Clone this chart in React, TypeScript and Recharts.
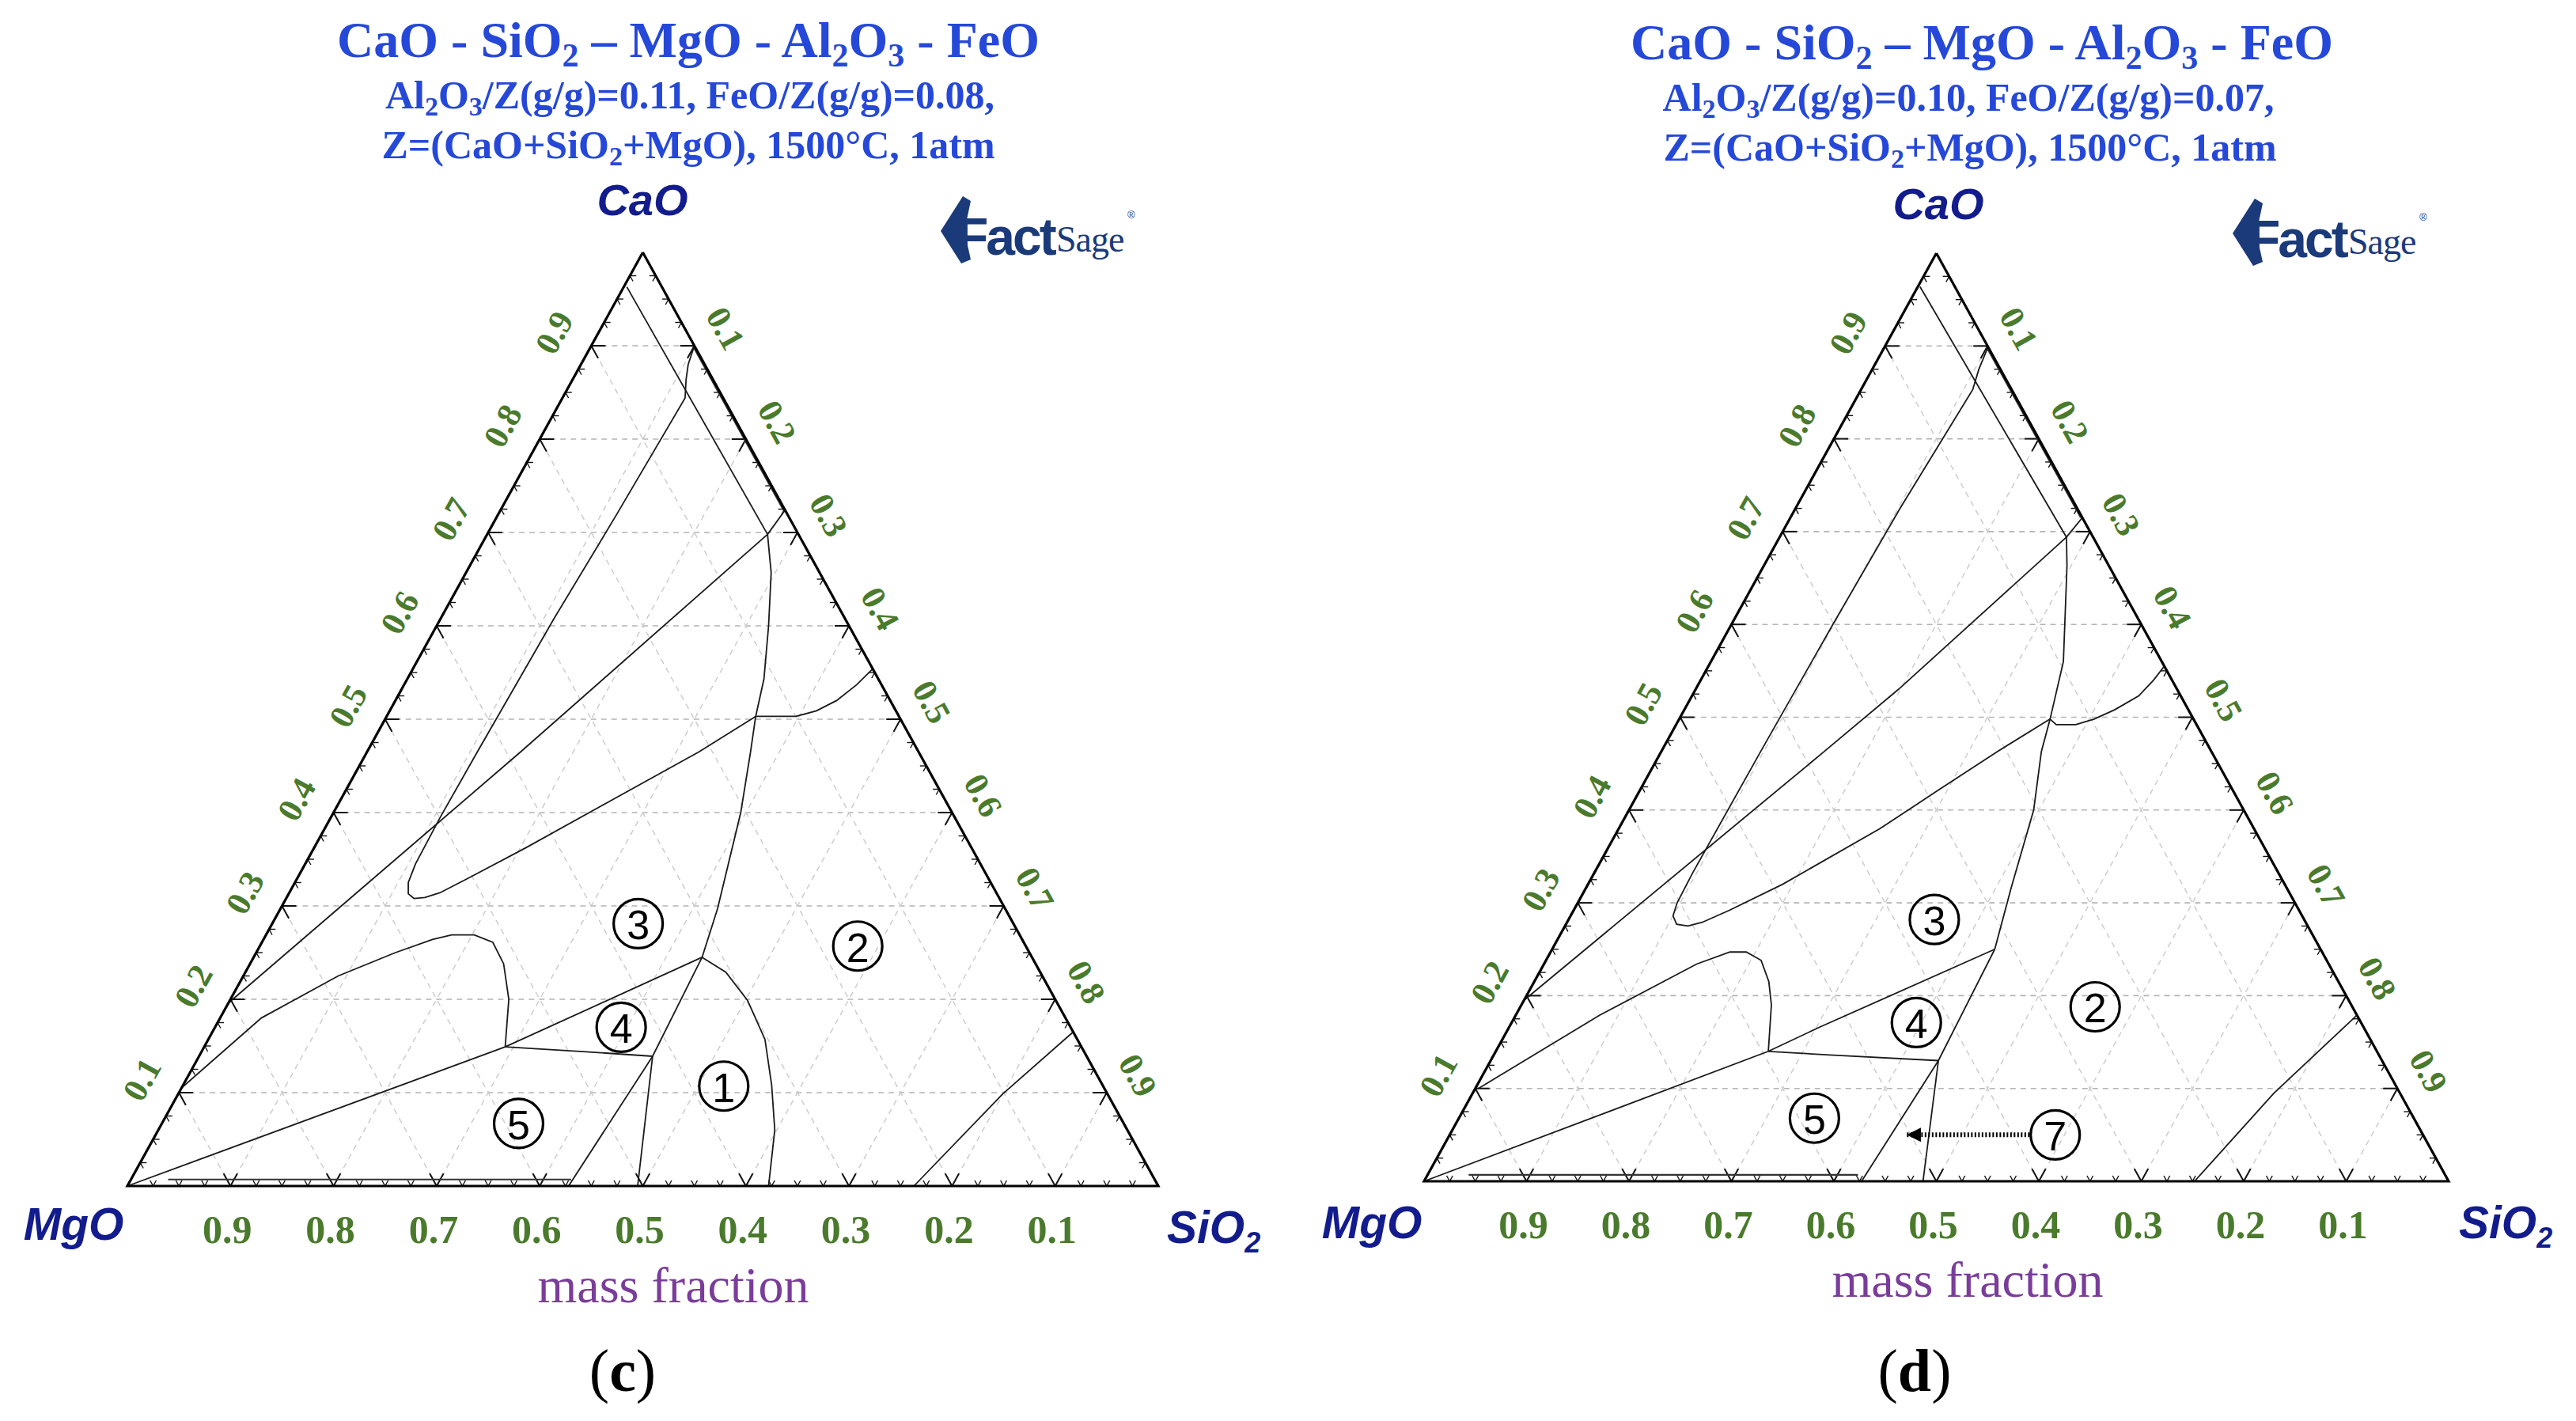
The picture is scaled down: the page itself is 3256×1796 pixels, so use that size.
import React from 'react';
import { ScatterChart, Scatter, XAxis, YAxis } from 'recharts';

type P = [number, number]; // [CaO fraction, SiO2 fraction]; MgO = 1 - CaO - SiO2

// ---------------- axis ticks ----------------
const TICK_VALUES = [0.1, 0.2, 0.3, 0.4, 0.5, 0.6, 0.7, 0.8, 0.9];
const TICK_LABELS = ['0.1', '0.2', '0.3', '0.4', '0.5', '0.6', '0.7', '0.8', '0.9'];
const MINOR_STEP = 0.025;

// ---------------- panel (c) boundaries ----------------
const C_CAO_SAT: P[] = [[0.963, 0.003], [0.698, 0.272]];
const C_EDGE_CAO: P[] = [[0.9, 0.0985], [0.724, 0.2745]];
const C_J1_EDGE: P[] = [[0.724, 0.276], [0.698, 0.272]];
const C_LOOP: P[] = [
  [0.9, 0.1], [0.88, 0.104], [0.864, 0.11], [0.844, 0.119], [0.72, 0.115], [0.608, 0.11],
  [0.465, 0.107], [0.394, 0.106], [0.345, 0.107], [0.325, 0.11], [0.313, 0.116], [0.308, 0.124],
  [0.309, 0.134], [0.314, 0.146], [0.329, 0.165], [0.362, 0.205], [0.407, 0.256], [0.465, 0.322], [0.503, 0.358],
];
const C_LINE_A: P[] = [[0.698, 0.272], [0.465, 0.149], [0.196, 0.0]];
const C_LINE_B: P[] = [
  [0.698, 0.272], [0.657, 0.296], [0.6, 0.322], [0.543, 0.346], [0.503, 0.358],
  [0.465, 0.372], [0.4, 0.395], [0.297, 0.424], [0.245, 0.435],
];
const C_RIGHT_CURVE: P[] = [[0.554, 0.446], [0.537, 0.439], [0.52, 0.428], [0.509, 0.414], [0.503, 0.397], [0.503, 0.358]];
const C_REGION1: P[] = [
  [0.245, 0.435], [0.229, 0.466], [0.199, 0.502], [0.157, 0.54], [0.108, 0.571], [0.06, 0.598], [0.005, 0.62], [0.0, 0.622],
];
const C_S_LINE: P[] = [[0.245, 0.435], [0.139, 0.44], [0.0, 0.428]];
const C_J4_DOWN: P[] = [[0.139, 0.44], [0.0, 0.495]];
const C_J5_J4: P[] = [[0.149, 0.292], [0.144, 0.37], [0.139, 0.44]];
const C_MGO_RAY: P[] = [[0.0, 0.0], [0.149, 0.292], [0.245, 0.435]];
const C_REGION5: P[] = [
  [0.149, 0.292], [0.2, 0.27], [0.238, 0.246], [0.261, 0.224], [0.269, 0.202], [0.269, 0.18],
  [0.264, 0.164], [0.25, 0.135], [0.225, 0.092], [0.18, 0.04], [0.105, 0.0],
];
const C_SIO2_SIDE: P[] = [[0.165, 0.835], [0.099, 0.8], [0.0, 0.763]];
const C_BASE: P[] = [[0.007, 0.036], [0.007, 0.427]];
const C_LABEL_TEXT = ['1', '2', '3', '4', '5'];
const C_LABEL_POS: P[] = [[0.107, 0.525], [0.257, 0.58], [0.281, 0.355], [0.17, 0.394], [0.067, 0.346]];

// ---------------- panel (d) boundaries ----------------
const D_CAO_SAT: P[] = [[0.964, 0.002], [0.694, 0.28]];
const D_EDGE_CAO: P[] = [[0.899, 0.0995], [0.715, 0.2835]];
const D_J1_EDGE: P[] = [[0.715, 0.285], [0.694, 0.28]];
const D_LOOP: P[] = [
  [0.899, 0.101], [0.875, 0.104], [0.853, 0.109], [0.724, 0.102], [0.6, 0.099], [0.463, 0.097],
  [0.332, 0.096], [0.3, 0.097], [0.286, 0.1], [0.277, 0.108], [0.275, 0.12], [0.279, 0.132],
  [0.292, 0.152], [0.32, 0.19], [0.38, 0.255], [0.42, 0.29], [0.463, 0.328], [0.498, 0.362],
];
const D_LINE_A: P[] = [[0.694, 0.28], [0.53, 0.198], [0.463, 0.159], [0.195, 0.0]];
const D_LINE_B: P[] = [
  [0.694, 0.28], [0.663, 0.296], [0.56, 0.344], [0.498, 0.362], [0.463, 0.371], [0.4, 0.395], [0.316, 0.415], [0.25, 0.432],
];
const D_RIGHT_CURVE: P[] = [[0.555, 0.445], [0.54, 0.442], [0.523, 0.436], [0.508, 0.42], [0.498, 0.405], [0.492, 0.39], [0.492, 0.371], [0.498, 0.362]];
const D_S_LINE: P[] = [[0.25, 0.432], [0.13, 0.437], [0.0, 0.427]];
const D_J4_DOWN: P[] = [[0.13, 0.437], [0.0, 0.487]];
const D_J5_J4: P[] = [[0.14, 0.266], [0.136, 0.328], [0.13, 0.437]];
const D_MGO_RAY: P[] = [[0.0, 0.0], [0.14, 0.266], [0.166, 0.303], [0.25, 0.432]];
const D_REGION5: P[] = [
  [0.14, 0.266], [0.19, 0.244], [0.215, 0.229], [0.238, 0.21], [0.247, 0.191], [0.247, 0.175],
  [0.234, 0.149], [0.179, 0.082], [0.1, 0.003],
];
const D_SIO2_SIDE: P[] = [[0.179, 0.821], [0.095, 0.782], [0.0, 0.752]];
const D_BASE: P[] = [[0.007, 0.04], [0.007, 0.42]];
const D_ARROW: P[] = [[0.05, 0.566], [0.05, 0.446]];
const D_LABEL_TEXT = ['2', '3', '4', '5', '7'];
const D_LABEL_POS: P[] = [[0.188, 0.561], [0.282, 0.357], [0.171, 0.395], [0.068, 0.347], [0.05, 0.591]];

// ---------------- helpers ----------------
const tern = (p: P) => ({ x: p[1] + p[0] / 2, y: p[0] });
const Empty = () => <g />;
const GREEN = '#4a7a2c';

type Geom = { left: number; W: number; H: number; bx: number; cx: number; by: number; ay: number };
const GEOM_C: Geom = { left: 0, W: 1628, H: 1796, bx: 161, cx: 1464, by: 1499, ay: 319 };
const GEOM_D: Geom = { left: 1628, W: 1628, H: 1796, bx: 172, cx: 1467, by: 1493, ay: 320 };

function TernaryPanel(props: {
  geom: Geom; curves: P[][]; edgeCurves: P[][]; labelPos: P[]; labelText: string[]; arrow?: P[];
}) {
  const { geom: g, curves, edgeCurves, labelPos, labelText, arrow } = props;
  const xs = g.cx - g.bx;
  const ys = g.by - g.ay;
  const xDomain = [-g.bx / xs, (g.W - g.bx) / xs];
  const yDomain = [(g.by - g.H) / ys, g.by / ys];
  const len = Math.hypot(0.5 * xs, ys);
  const ux = (0.5 * xs) / len;
  const uy = ys / len;
  const dirs: Record<string, number[][]> = {
    B: [[ux, -uy], [-ux, -uy]],
    L: [[1, 0], [ux, uy]],
    R: [[-1, 0], [-ux, uy]],
  };

  const gridH = TICK_VALUES.map((t) => [[t, 0], [t, 1 - t]] as P[]);
  const gridS = TICK_VALUES.map((t) => [[0, t], [1 - t, t]] as P[]);
  const gridM = TICK_VALUES.map((t) => [[0, 1 - t], [1 - t, 0]] as P[]);

  const ticks: any[] = [];
  const nSteps = Math.round(1 / MINOR_STEP);
  for (let i = 1; i < nSteps; i++) {
    const f = i * MINOR_STEP;
    const major = i % 4 === 0;
    ticks.push({ ...tern([0, 1 - f]), edge: 'B', major });
    ticks.push({ ...tern([f, 0]), edge: 'L', major });
    ticks.push({ ...tern([1 - f, f]), edge: 'R', major });
  }
  const tickLabels: any[] = [];
  TICK_VALUES.forEach((t, i) => {
    tickLabels.push({ ...tern([0, 1 - t]), edge: 'B', text: TICK_LABELS[i] });
    tickLabels.push({ ...tern([t, 0]), edge: 'L', text: TICK_LABELS[i] });
    tickLabels.push({ ...tern([1 - t, t]), edge: 'R', text: TICK_LABELS[i] });
  });
  const circles = labelPos.map((p, i) => ({ ...tern(p), text: labelText[i] }));
  const frame: P[] = [[1, 0], [0, 0], [0, 1], [1, 0]];

  const TickShape = (sp: any) => {
    const { cx, cy, payload } = sp;
    const L = payload.major ? 18 : 8;
    return (
      <g stroke="#111" strokeWidth={payload.major ? 2 : 1.4}>
        {dirs[payload.edge].map((d, k) => (
          <line key={k} x1={cx} y1={cy} x2={cx + d[0] * L} y2={cy + d[1] * L} />
        ))}
      </g>
    );
  };
  const TickLabelShape = (sp: any) => {
    const { cx, cy, payload } = sp;
    if (payload.edge === 'B') {
      return (
        <text x={cx - 4} y={cy + 55} textAnchor="middle" dominantBaseline="central"
          fontFamily="Liberation Serif" fontWeight="bold" fontSize={50} fill={GREEN}>{payload.text}</text>
      );
    }
    if (payload.edge === 'L') {
      const px = cx - uy * 49 + ux * -8;
      const py = cy - ux * 49 - uy * -8;
      return (
        <text x={px} y={py} textAnchor="middle" dominantBaseline="central" transform={`rotate(-61 ${px} ${py})`}
          fontFamily="Liberation Serif" fontWeight="bold" fontSize={43} fill={GREEN}>{payload.text}</text>
      );
    }
    const px = cx + uy * 45;
    const py = cy - ux * 45;
    return (
      <text x={px} y={py} textAnchor="middle" dominantBaseline="central" transform={`rotate(61 ${px} ${py})`}
        fontFamily="Liberation Serif" fontWeight="bold" fontSize={43} fill={GREEN}>{payload.text}</text>
    );
  };
  const CircleShape = (sp: any) => {
    const { cx, cy, payload } = sp;
    return (
      <g>
        <circle cx={cx} cy={cy} r={31} fill="none" stroke="#000" strokeWidth={3.2} />
        <text x={cx} y={cy + 2} textAnchor="middle" dominantBaseline="central" fontFamily="Liberation Sans"
          fontSize={52} fill="#000">{payload.text}</text>
      </g>
    );
  };
  const ArrowHead = (sp: any) => {
    const { cx, cy } = sp;
    return <polygon points={`${cx},${cy} ${cx + 18},${cy - 9} ${cx + 18},${cy + 9}`} fill="#000" />;
  };

  let key = 0;
  return (
    <div style={{ position: 'absolute', left: g.left, top: 0 }}>
      <ScatterChart width={g.W} height={g.H} margin={{ top: 0, right: 0, bottom: 0, left: 0 }}>
        <XAxis type="number" dataKey="x" domain={xDomain} hide allowDataOverflow />
        <YAxis type="number" dataKey="y" domain={yDomain} hide allowDataOverflow width={0} />
        {gridH.map((s) => (
          <Scatter key={'gh' + key++} data={s.map(tern)} isAnimationActive={false} shape={Empty}
            line={{ stroke: '#b4b4b4', strokeWidth: 1.6, strokeDasharray: '7 6' }} />
        ))}
        {gridS.concat(gridM).map((s) => (
          <Scatter key={'gd' + key++} data={s.map(tern)} isAnimationActive={false} shape={Empty}
            line={{ stroke: '#cdcdcd', strokeWidth: 1.5, strokeDasharray: '7 6' }} />
        ))}
        <Scatter data={ticks} isAnimationActive={false} shape={TickShape} />
        {edgeCurves.map((c) => (
          <Scatter key={'ec' + key++} data={c.map(tern)} isAnimationActive={false} shape={Empty}
            line={{ stroke: '#333', strokeWidth: 2.2 }} />
        ))}
        {curves.map((c) => (
          <Scatter key={'cv' + key++} data={c.map(tern)} isAnimationActive={false} shape={Empty}
            line={{ stroke: '#1a1a1a', strokeWidth: 1.8 }} />
        ))}
        <Scatter data={frame.map(tern)} isAnimationActive={false} shape={Empty}
          line={{ stroke: '#000', strokeWidth: 3.2 }} />
        {arrow ? (
          <Scatter data={arrow.map(tern)} isAnimationActive={false} shape={Empty}
            line={{ stroke: '#000', strokeWidth: 6, strokeDasharray: '2 2.5' }} />
        ) : null}
        {arrow ? (
          <Scatter data={[tern(arrow[arrow.length - 1])]} isAnimationActive={false} shape={ArrowHead} />
        ) : null}
        <Scatter data={tickLabels} isAnimationActive={false} shape={TickLabelShape} />
        <Scatter data={circles} isAnimationActive={false} shape={CircleShape} />
      </ScatterChart>
    </div>
  );
}

const TITLE_BLUE = '#2548d8';
const NAVY = '#121c8c';

function Texts(props: { ratios: string; cx1: number; cx2: number; cx3: number; dy: number;
  caoX: number; caoY: number; mgoX: number; mgoY: number; sioX: number; sioY: number; mfX: number; mfY: number;
  tagX: number; tag: string; logoX: number }) {
  const p = props;
  const sub = (t: string, s: number, d: number) => <tspan dy={d} fontSize={s}>{t}</tspan>;
  return (
    <g>
      <text x={p.cx1} y={72 + p.dy} textAnchor="middle" fontFamily="Liberation Serif" fontWeight="bold" fontSize={64} fill={TITLE_BLUE}>
        CaO - SiO{sub('2', 42, 12)}<tspan dy={-12}> – MgO - Al</tspan>{sub('2', 42, 12)}<tspan dy={-12}>O</tspan>{sub('3', 42, 12)}<tspan dy={-12}> - FeO</tspan>
      </text>
      <text x={p.cx2} y={137 + p.dy} textAnchor="middle" fontFamily="Liberation Serif" fontWeight="bold" fontSize={50} fill={TITLE_BLUE}>
        Al{sub('2', 34, 9)}<tspan dy={-9}>O</tspan>{sub('3', 34, 9)}<tspan dy={-9}>{p.ratios}</tspan>
      </text>
      <text x={p.cx3} y={200 + p.dy} textAnchor="middle" fontFamily="Liberation Serif" fontWeight="bold" fontSize={50} fill={TITLE_BLUE}>
        Z=(CaO+SiO{sub('2', 34, 9)}<tspan dy={-9}>+MgO), 1500°C, 1atm</tspan>
      </text>
      <text x={p.caoX} y={p.caoY} textAnchor="middle" fontFamily="Liberation Sans" fontWeight="bold" fontStyle="italic" fontSize={56} fill={NAVY}>CaO</text>
      <text x={p.mgoX} y={p.mgoY} textAnchor="middle" fontFamily="Liberation Sans" fontWeight="bold" fontStyle="italic" fontSize={57} fill={NAVY}>MgO</text>
      <text x={p.sioX} y={p.sioY} fontFamily="Liberation Sans" fontWeight="bold" fontStyle="italic" fontSize={57} fill={NAVY}>
        SiO<tspan dy={12} fontSize={36}>2</tspan>
      </text>
      <text x={p.mfX} y={p.mfY} textAnchor="middle" fontFamily="Liberation Serif" fontSize={64} fill="#7a3d9a">mass fraction</text>
      <text x={p.tagX} y={1758} textAnchor="middle" fontFamily="Liberation Serif" fontSize={76} fill="#000">
        (<tspan fontWeight="bold">{p.tag}</tspan>)
      </text>
      <g fill="#1b3a7a">
        <polygon points={`${p.logoX},${292 + p.dy} ${p.logoX + 28},${248 + p.dy} ${p.logoX + 38},${254 + p.dy} ${p.logoX + 30},${292 + p.dy} ${p.logoX + 38},${328 + p.dy} ${p.logoX + 26},${333 + p.dy}`} />
        <text x={p.logoX + 20} y={322 + p.dy} fontFamily="Liberation Sans" fontWeight="bold" fontSize={66} letterSpacing={-3}>Fact</text>
        <text x={p.logoX + 146} y={318 + p.dy} fontFamily="Liberation Serif" fontSize={46} letterSpacing={-1}>Sage</text>
        <text x={p.logoX + 236} y={276 + p.dy} fontFamily="Liberation Sans" fontSize={13}>®</text>
      </g>
    </g>
  );
}

export default function App() {
  return (
    <div style={{ position: 'absolute', left: 0, top: 0, width: 3256, height: 1796, background: '#fff' }}>
      <TernaryPanel
        geom={GEOM_C}
        edgeCurves={[C_EDGE_CAO, C_BASE]}
        curves={[C_CAO_SAT, C_J1_EDGE, C_LOOP, C_LINE_A, C_LINE_B, C_RIGHT_CURVE, C_REGION1, C_S_LINE, C_J4_DOWN, C_J5_J4, C_MGO_RAY, C_REGION5, C_SIO2_SIDE]}
        labelPos={C_LABEL_POS}
        labelText={C_LABEL_TEXT}
      />
      <TernaryPanel
        geom={GEOM_D}
        edgeCurves={[D_EDGE_CAO, D_BASE]}
        curves={[D_CAO_SAT, D_J1_EDGE, D_LOOP, D_LINE_A, D_LINE_B, D_RIGHT_CURVE, D_S_LINE, D_J4_DOWN, D_J5_J4, D_MGO_RAY, D_REGION5, D_SIO2_SIDE]}
        labelPos={D_LABEL_POS}
        labelText={D_LABEL_TEXT}
        arrow={D_ARROW}
      />
      <svg width={3256} height={1796} style={{ position: 'absolute', left: 0, top: 0, pointerEvents: 'none' }}>
        <Texts ratios="/Z(g/g)=0.11, FeO/Z(g/g)=0.08," cx1={870} cx2={872} cx3={870} dy={0}
          caoX={812} caoY={272} mgoX={93} mgoY={1567} sioX={1475} sioY={1571} mfX={851} mfY={1646}
          tagX={787} tag="c" logoX={1189} />
        <Texts ratios="/Z(g/g)=0.10, FeO/Z(g/g)=0.07," cx1={2505} cx2={2488} cx3={2490} dy={3}
          caoX={2450} caoY={277} mgoX={1734} mgoY={1565} sioX={3108} sioY={1565} mfX={2487} mfY={1639}
          tagX={2420} tag="d" logoX={2822} />
      </svg>
    </div>
  );
}
